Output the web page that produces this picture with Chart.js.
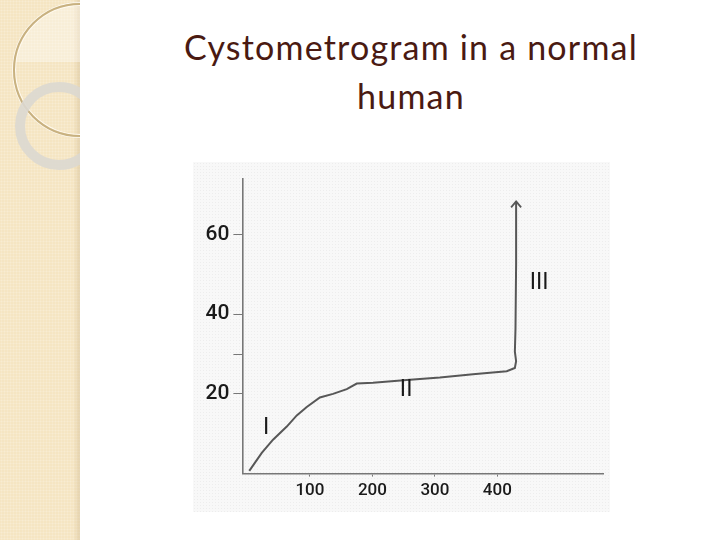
<!DOCTYPE html>
<html>
<head>
<meta charset="utf-8">
<script src="https://cdn.jsdelivr.net/npm/chart.js@4.4.1/dist/chart.umd.min.js"></script>
<style>
    body { margin: 0; width: 720px; height: 540px; background: #fff; position: relative; overflow: hidden; }
    #side {
        position: absolute; left: 0; top: 0; width: 80px; height: 540px; overflow: hidden;
        background-color: #f5e5c2;
        background-image:
            linear-gradient(to right, rgba(0,0,0,0) 73px, rgba(190,165,120,0.3) 80px),
            radial-gradient(rgba(255,255,255,0.25) 0.8px, rgba(255,255,255,0) 1.2px);
        background-size: 80px 540px, 3px 3px;
    }
    #bigRing {
        position: absolute; left: 13px; top: 3px; width: 134px; height: 134px; box-sizing: border-box;
        border-radius: 50%; border: 2px solid #c8b180;
        box-shadow: inset 0 0 0 1px #fffaf0, 0 0 0 1px rgba(255,255,255,0.7);
        background: linear-gradient(to bottom, rgba(255,255,255,0.35) 44%, rgba(255,255,255,0) 44%);
    }
    #smallRing {
        position: absolute; left: 15px; top: 82px; width: 88px; height: 88px; box-sizing: border-box;
        border-radius: 50%; border: 10px solid rgba(220,216,208,0.9);
    }
    #title {
        position: absolute; left: 120px; top: 22px; width: 582px; text-align: center;
        font-family: Lato, sans-serif; font-size: 34px; letter-spacing: 1.2px; line-height: 49px; color: #4a1a12;
    }
    #plot {
        position: absolute; left: 193px; top: 162px; width: 417px; height: 350px;
        background-color: #f8f8f8;
        background-image: radial-gradient(rgba(232,232,232,0.7) 0.6px, rgba(255,255,255,0) 0.9px);
        background-size: 3px 3px;
    }
</style>
</head>
<body>
<div id="side"><div id="bigRing"></div><div id="smallRing"></div></div>
<div id="title">Cystometrogram in a normal<br>human</div>
<div id="plot"><canvas id="chart"></canvas></div>
<script>
// traced curve: volume (ml) against intravesical pressure
const volume = [3, 23, 41, 63, 79, 95, 116, 137, 159, 175, 201, 255, 308, 361, 415, 428, 430, 428, 429, 430, 430];
const pressure = [0.7, 5.2, 8.5, 11.8, 14.6, 16.7, 19.1, 20.0, 21.2, 22.6, 22.8, 23.5, 24.1, 24.9, 25.7, 26.5, 28.2, 30.6, 36.3, 52.7, 68.3];

const xTicks = [100, 200, 300, 400];
const yTicks = [20, 30, 40, 60];
const yTickLabels = ['20', '', '40', '60'];

// phase labels I, II, III
const phaseNames = ['I', 'II', 'III'];
const phaseVolume = [30, 254, 467];
const phasePressure = [11.4, 20.8, 47.8];

const inkColor = '#575757';
const axisColor = '#777';

const arrowAndPhases = {
    id: 'arrowAndPhases',
    afterDatasetsDraw(chart) {
        const ctx = chart.ctx;
        const pts = chart.getDatasetMeta(0).data;
        const tip = pts[pts.length - 1];
        ctx.save();
        ctx.strokeStyle = inkColor;
        ctx.lineWidth = 1.8;
        ctx.beginPath();
        ctx.moveTo(tip.x - 5, tip.y + 6);
        ctx.lineTo(tip.x, tip.y);
        ctx.lineTo(tip.x + 5, tip.y + 6);
        ctx.stroke();

        const xs = chart.scales.x, ys = chart.scales.y;
        ctx.fillStyle = '#1a1a1a';
        ctx.font = '23px Roboto';
        ctx.textAlign = 'center';
        ctx.textBaseline = 'middle';
        phaseNames.forEach((name, i) => {
            ctx.fillText(name, xs.getPixelForValue(phaseVolume[i]), ys.getPixelForValue(phasePressure[i]));
        });
        ctx.restore();
    }
};

new Chart(document.getElementById('chart'), {
    type: 'line',
    data: {
        datasets: [{
            data: volume.map((v, i) => ({ x: v, y: pressure[i] })),
            borderColor: inkColor,
            borderWidth: 2,
            pointRadius: 0,
            tension: 0,
            fill: false
        }]
    },
    options: {
        responsive: true,
        maintainAspectRatio: false,
        animation: false,
        layout: { padding: { left: 0, right: 6.4, top: 11.4, bottom: 0 } },
        plugins: { legend: { display: false }, tooltip: { enabled: false } },
        scales: {
            x: {
                type: 'linear',
                min: -8,
                max: 570,
                afterBuildTicks: s => { s.ticks = xTicks.map(v => ({ value: v })); },
                afterFit: s => { s.height = 38.4; },
                border: { color: axisColor, width: 1.6 },
                grid: { drawOnChartArea: false, tickLength: 3, color: axisColor },
                ticks: { color: '#1a1a1a', padding: 4, font: { family: 'Roboto', size: 17, weight: '500' } }
            },
            y: {
                type: 'linear',
                min: 0,
                max: 74,
                afterBuildTicks: s => { s.ticks = yTicks.map(v => ({ value: v })); },
                afterFit: s => { s.width = 49.4; },
                border: { color: axisColor, width: 1.6 },
                grid: { drawOnChartArea: false, tickLength: 9, color: axisColor },
                ticks: {
                    color: '#1a1a1a', padding: 4, font: { family: 'Roboto', size: 21, weight: '500' },
                    callback: (v, i) => yTickLabels[i]
                }
            }
        }
    },
    plugins: [arrowAndPhases]
});
</script>
</body>
</html>
